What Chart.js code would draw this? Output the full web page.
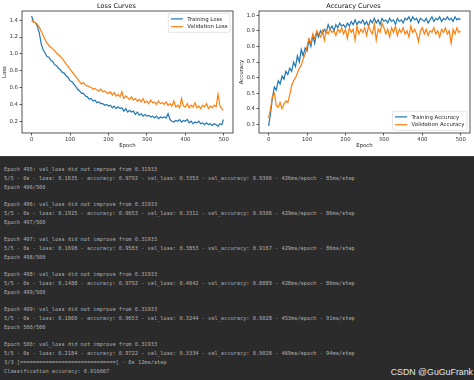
<!DOCTYPE html>
<html><head><meta charset="utf-8">
<script src="https://cdn.jsdelivr.net/npm/chart.js@4.4.1/dist/chart.umd.min.js"></script>
<style>
html,body{margin:0;padding:0;background:#fff;width:474px;height:380px;overflow:hidden;position:relative}
#c1{position:absolute;left:0;top:0}
#c2{position:absolute;left:237px;top:0}
#term{position:absolute;left:0;top:156px;width:474px;height:224px;background:#2b2b2b;border-top:1px solid #3c3c3c;box-sizing:border-box;overflow:hidden}
#log{position:absolute;left:3.5px;top:8.1px;margin:0;font-family:'DejaVu Sans Mono',monospace;font-size:10.6px;line-height:17.5px;color:#adadad;transform:scale(0.5);transform-origin:0 0;white-space:pre}
#wm{position:absolute;right:1px;top:366.7px;line-height:10px;font-family:'Liberation Sans',Arial,sans-serif;font-size:8.8px;color:#e6e6e6}
</style></head><body>
<canvas id="c1" width="237" height="156"></canvas>
<canvas id="c2" width="237" height="156"></canvas>
<div id="term"><pre id="log"></pre></div>
<div id="wm">CSDN @GuGuFrank</div>
<script>
const epochs = [0,5,10,15,20,25,30,35,40,45,50,55,60,65,70,75,80,85,90,95,100,105,110,115,120,125,130,135,140,145,150,155,160,165,170,175,180,185,190,195,200,205,210,215,220,225,230,235,240,245,250,255,260,265,270,275,280,285,290,295,300,305,310,315,320,325,330,335,340,345,350,355,360,365,370,375,380,385,390,395,400,405,410,415,420,425,430,435,440,445,450,455,460,465,470,475,480,485,490,495,499];
const trainLoss = [1.45,1.38,1.37,1.33,1.25,1.12,1.05,1.01,0.97,0.96,0.92,0.91,0.87,0.86,0.83,0.81,0.78,0.77,0.74,0.72,0.68,0.67,0.64,0.61,0.58,0.56,0.53,0.53,0.50,0.49,0.46,0.47,0.44,0.45,0.42,0.43,0.41,0.41,0.39,0.40,0.38,0.39,0.36,0.38,0.35,0.37,0.35,0.36,0.32,0.35,0.31,0.33,0.31,0.32,0.28,0.31,0.27,0.29,0.26,0.28,0.26,0.27,0.25,0.26,0.24,0.26,0.23,0.25,0.24,0.25,0.24,0.29,0.22,0.20,0.19,0.21,0.20,0.22,0.19,0.21,0.20,0.22,0.18,0.20,0.17,0.19,0.18,0.20,0.17,0.18,0.16,0.18,0.16,0.17,0.15,0.17,0.16,0.14,0.17,0.16,0.22];
const valLoss = [1.40,1.38,1.37,1.35,1.32,1.27,1.22,1.17,1.13,1.10,1.08,1.06,1.04,1.01,0.99,0.97,0.94,0.91,0.88,0.85,0.82,0.79,0.76,0.73,0.70,0.67,0.64,0.66,0.63,0.62,0.61,0.60,0.58,0.59,0.57,0.56,0.58,0.55,0.56,0.54,0.53,0.55,0.51,0.54,0.50,0.52,0.49,0.55,0.47,0.50,0.48,0.46,0.49,0.45,0.47,0.44,0.46,0.43,0.47,0.42,0.44,0.41,0.45,0.42,0.43,0.40,0.44,0.41,0.42,0.40,0.43,0.39,0.41,0.38,0.44,0.37,0.39,0.36,0.47,0.38,0.37,0.41,0.36,0.39,0.37,0.42,0.36,0.38,0.35,0.39,0.37,0.41,0.35,0.38,0.36,0.39,0.37,0.52,0.38,0.35,0.33];
const trainAcc = [0.29,0.37,0.47,0.54,0.52,0.58,0.56,0.61,0.59,0.64,0.62,0.66,0.64,0.70,0.67,0.74,0.70,0.78,0.74,0.79,0.77,0.84,0.80,0.87,0.82,0.89,0.86,0.90,0.88,0.91,0.89,0.94,0.91,0.93,0.90,0.94,0.92,0.95,0.93,0.94,0.92,0.95,0.93,0.96,0.94,0.97,0.94,0.96,0.95,0.97,0.94,0.96,0.93,0.97,0.95,0.98,0.95,0.97,0.94,0.98,0.96,0.97,0.95,0.98,0.96,0.97,0.94,0.98,0.96,0.97,0.95,0.98,0.97,0.99,0.96,0.99,0.97,0.98,0.95,0.98,0.97,0.96,0.98,0.95,0.97,0.99,0.96,0.98,0.97,0.99,0.96,0.98,0.97,0.99,0.97,0.98,0.96,0.99,0.97,0.98,0.97];
const valAcc = [0.34,0.40,0.48,0.50,0.42,0.41,0.44,0.40,0.43,0.45,0.44,0.49,0.55,0.58,0.60,0.63,0.66,0.68,0.72,0.75,0.80,0.85,0.82,0.88,0.85,0.90,0.88,0.86,0.90,0.84,0.90,0.88,0.91,0.89,0.90,0.87,0.91,0.89,0.92,0.88,0.91,0.85,0.92,0.89,0.91,0.84,0.93,0.88,0.91,0.89,0.92,0.87,0.93,0.90,0.88,0.94,0.84,0.91,0.89,0.95,0.92,0.88,0.91,0.86,0.92,0.89,0.93,0.87,0.91,0.89,0.92,0.88,0.90,0.86,0.93,0.89,0.91,0.88,0.83,0.90,0.92,0.88,0.91,0.87,0.90,0.89,0.92,0.88,0.90,0.86,0.91,0.89,0.92,0.88,0.90,0.82,0.91,0.88,0.92,0.89,0.90];
const xTicks = [0,100,200,300,400,500];
const lossTicks = [0.2,0.4,0.6,0.8,1.0,1.2,1.4];
const accTicks = [0.3,0.4,0.5,0.6,0.7,0.8,0.9,1.0];
const logLines = [
"Epoch 495: val_loss did not improve from 0.31933",
"5/5 - 0s - loss: 0.1635 - accuracy: 0.9792 - val_loss: 0.3353 - val_accuracy: 0.9306 - 426ms/epoch - 85ms/step",
"Epoch 496/500",
"",
"Epoch 496: val_loss did not improve from 0.31933",
"5/5 - 0s - loss: 0.1925 - accuracy: 0.9653 - val_loss: 0.3311 - val_accuracy: 0.9306 - 429ms/epoch - 86ms/step",
"Epoch 497/500",
"",
"Epoch 497: val_loss did not improve from 0.31933",
"5/5 - 0s - loss: 0.1698 - accuracy: 0.9583 - val_loss: 0.3853 - val_accuracy: 0.9167 - 429ms/epoch - 86ms/step",
"Epoch 498/500",
"",
"Epoch 498: val_loss did not improve from 0.31933",
"5/5 - 0s - loss: 0.1488 - accuracy: 0.9792 - val_loss: 0.4042 - val_accuracy: 0.8889 - 428ms/epoch - 86ms/step",
"Epoch 499/500",
"",
"Epoch 499: val_loss did not improve from 0.31933",
"5/5 - 0s - loss: 0.1860 - accuracy: 0.9653 - val_loss: 0.3244 - val_accuracy: 0.9028 - 453ms/epoch - 91ms/step",
"Epoch 500/500",
"",
"Epoch 500: val_loss did not improve from 0.31933",
"5/5 - 0s - loss: 0.2184 - accuracy: 0.9722 - val_loss: 0.3334 - val_accuracy: 0.9028 - 469ms/epoch - 94ms/step",
"3/3 [==============================] - 0s 12ms/step",
"Classification accuracy: 0.916667"
];
document.getElementById('log').textContent = logLines.join('\n');

const BLUE = '#1f77b4', ORANGE = '#ff7f0e';
const FONT = 'DejaVu Sans';

const frame = {id:'frame', afterDatasetsDraw(chart){
  const {ctx, chartArea:a} = chart;
  ctx.save(); ctx.strokeStyle='#2a2a2a'; ctx.lineWidth=0.8;
  ctx.strokeRect(a.left, a.top, a.right-a.left, a.bottom-a.top);
  ctx.restore();
}};
const inLegend = {id:'inLegend', afterDraw(chart, args, opts){
  const {ctx, chartArea:a} = chart;
  ctx.save();
  ctx.font = '5.4px "' + FONT + '"';
  const items = chart.data.datasets;
  const tw = Math.max(...items.map(d => ctx.measureText(d.label).width));
  const rowH = 7.8;
  const w = 2.5 + 12 + 4.5 + tw + 2.5, h = items.length*rowH + 3.4;
  const x = a.right - 3 - w;
  const y = opts.pos === 'top' ? a.top + 2.3 : a.bottom - 2.7 - h;
  ctx.fillStyle = 'rgba(255,255,255,0.8)'; ctx.strokeStyle = '#d4d4d4'; ctx.lineWidth = 0.6;
  ctx.beginPath(); ctx.roundRect(x, y, w, h, 1.5); ctx.fill(); ctx.stroke();
  items.forEach((d,i) => {
    const cy = y + 1.7 + rowH*(i+0.5);
    ctx.strokeStyle = d.borderColor; ctx.lineWidth = 1.2;
    ctx.beginPath(); ctx.moveTo(x+2.5, cy); ctx.lineTo(x+14.5, cy); ctx.stroke();
    ctx.fillStyle = '#222'; ctx.textBaseline = 'middle'; ctx.textAlign = 'left';
    ctx.fillText(d.label, x+19, cy + 0.3);
  });
  ctx.restore();
}};

function makeChart(id, title, yTitle, yMin, yMax, yTicks, trainArr, valArr, trainLabel, valLabel, legendPos){
  const pts = arr => epochs.map((e,i) => ({x:e, y:arr[i]}));
  return new Chart(document.getElementById(id), {
    type:'line',
    data:{datasets:[
      {label:trainLabel, data:pts(trainArr), borderColor:BLUE, backgroundColor:BLUE, borderWidth:1.2, pointRadius:0, tension:0, order:2},
      {label:valLabel, data:pts(valArr), borderColor:ORANGE, backgroundColor:ORANGE, borderWidth:1.2, pointRadius:0, tension:0, order:1}
    ]},
    plugins:[frame, inLegend],
    options:{
      responsive:false, animation:false, events:[],
      layout:{padding:{left:0,right:4,top:0,bottom:0}},
      plugins:{
        legend:{display:false}, tooltip:{enabled:false},
        title:{display:true, text:title, color:'#111', font:{family:FONT, size:6.5, weight:'normal'}, padding:{top:2,bottom:1.2}},
        inLegend:{pos:legendPos}
      },
      scales:{
        x:{type:'linear', min:-24.95, max:523.95,
          afterBuildTicks: s => { s.ticks = xTicks.map(v => ({value:v})); },
          afterFit: s => { s.height = 23; },
          ticks:{font:{family:FONT,size:5.4}, color:'#333', padding:1, maxRotation:0, autoSkip:false, callback:v => String(v)},
          grid:{drawOnChartArea:false, drawTicks:true, tickLength:2.5, tickColor:'#333', tickWidth:0.8},
          border:{display:false},
          title:{display:true, text:'Epoch', color:'#222', font:{family:FONT,size:5.4}, padding:{top:0,bottom:6.75}}
        },
        y:{type:'linear', min:yMin, max:yMax,
          afterBuildTicks: s => { s.ticks = yTicks.map(v => ({value:v})); },
          afterFit: s => { s.width = 22; },
          ticks:{font:{family:FONT,size:5.4}, color:'#333', padding:1.5, autoSkip:false, callback:v => Number(v).toFixed(1)},
          grid:{drawOnChartArea:false, drawTicks:true, tickLength:2.5, tickColor:'#333', tickWidth:0.8},
          border:{display:false},
          title:{display:true, text:yTitle, color:'#222', font:{family:FONT,size:5.4}, padding:{top:1.75,bottom:0}}
        }
      }
    }
  });
}
makeChart('c1','Loss Curves','Loss',0.06,1.51,lossTicks,trainLoss,valLoss,'Training Loss','Validation Loss','top');
makeChart('c2','Accuracy Curves','Accuracy',0.245,1.027,accTicks,trainAcc,valAcc,'Training Accuracy','Validation Accuracy','bottom');
</script>
</body></html>
